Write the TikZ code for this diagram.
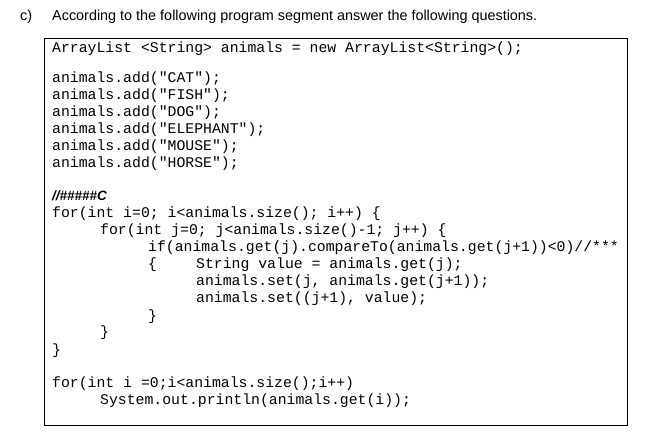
\documentclass[tikz,border=0pt]{standalone}
\usepackage{fontspec}
\setmainfont{Liberation Sans}
\setmonofont{Liberation Mono}
\begin{document}
\begin{tikzpicture}[x=1pt,y=-1pt,
  code/.style={anchor=base west,inner sep=0pt,font=\ttfamily\fontsize{14.8}{16}\selectfont},
  head/.style={anchor=base west,inner sep=0pt,font=\fontsize{14.4}{15}\selectfont}]
\useasboundingbox (0,0) rectangle (665,441);
\node[head] (lbl) at (20,21) {c)};
\node[head] (q) at (52,21) {According to the following program segment answer the following questions.};
\draw[line width=0.7pt] (44,38) rectangle (627,425);
\node[code] (l1) at (52,53) {ArrayList <String> animals = new ArrayList<String>();};
\node[code] (a1) at (52,83) {animals.add("CAT");};
\node[code] (a2) at (52,100) {animals.add("FISH");};
\node[code] (a3) at (52,117) {animals.add("DOG");};
\node[code] (a4) at (52,134) {animals.add("ELEPHANT");};
\node[code] (a5) at (52,151) {animals.add("MOUSE");};
\node[code] (a6) at (52,168) {animals.add("HORSE");};
\node[head,font=\bfseries\itshape\fontsize{13.5}{15}\selectfont] (c) at (52,201) {//\#\#\#\#\#C};
\node[code] (f1) at (52,218) {for(int i=0; i<animals.size(); i++) \{};
\node[code] (f2) at (100,235) {for(int j=0; j<animals.size()-1; j++) \{};
\node[code] (f3) at (148,252) {if(animals.get(j).compareTo(animals.get(j+1))<0)//***};
\node[code] (b1) at (148,269) {\{};
\node[code] (s1) at (196,269) {String value = animals.get(j);};
\node[code] (s2) at (196,286) {animals.set(j, animals.get(j+1));};
\node[code] (s3) at (196,303) {animals.set((j+1), value);};
\node[code] (b2) at (148,320) {\}};
\node[code] (b3) at (100,337) {\}};
\node[code] (b4) at (52,354) {\}};
\node[code] (p1) at (52,387) {for(int i =0;i<animals.size();i++)};
\node[code] (p2) at (100,404) {System.out.println(animals.get(i));};
\end{tikzpicture}
\end{document}
